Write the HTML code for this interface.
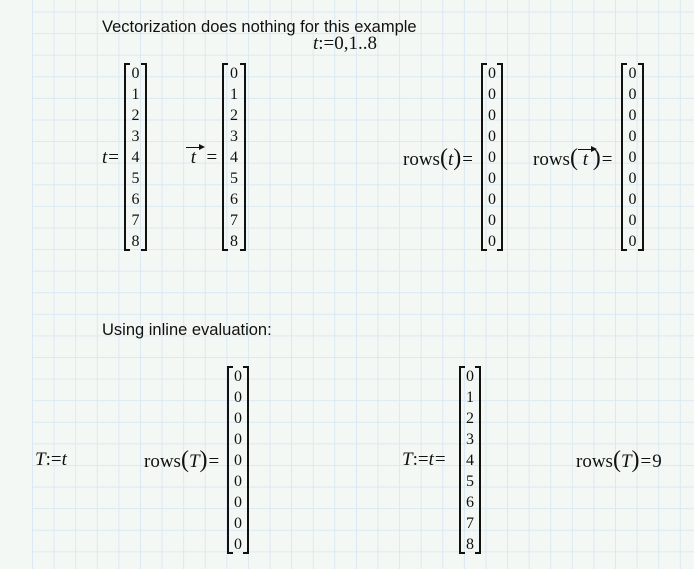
<!DOCTYPE html>
<html><head><meta charset="utf-8"><style>
html,body{margin:0;padding:0}
body{width:694px;height:569px;position:relative;overflow:hidden;background:#f4f8f4;}
.grid{position:absolute;left:31.5px;top:0;width:663px;height:569px;
background-image:linear-gradient(to right,#dbe8f3 1px,transparent 1px),linear-gradient(to bottom,#dbe8f3 1px,transparent 1px);
background-size:21.6px 21.6px;background-position:0 11.5px;}
.s{position:absolute;font-family:"Liberation Sans",sans-serif;font-size:16.5px;color:#111;white-space:nowrap}
.t{position:absolute;font-family:"Liberation Serif",serif;font-size:19px;color:#111;white-space:nowrap;line-height:22px}
.t i{font-style:italic}
.m{position:absolute;height:188px;border-left:2px solid #111;border-right:2px solid #111;display:flex;flex-direction:column;font-family:"Liberation Serif",serif;font-size:16px;color:#111}
.m::before,.m::after{content:"";position:absolute;top:0;bottom:0;width:4px;border-top:2px solid #111;border-bottom:2px solid #111}
.m::before{left:0}.m::after{right:0}
.m div{height:21px;line-height:21px;text-align:center}
.vec{position:relative;display:inline-block}
.vec::before{content:"";position:absolute;left:0px;right:-2px;top:0px;border-top:1.3px solid #111}
.vec::after{content:"";position:absolute;right:-4px;top:-3.5px;border-left:6px solid #111;border-top:3.5px solid transparent;border-bottom:3.5px solid transparent}
.p{font-size:24px;font-weight:300}
.e{margin:0 1px}
</style></head><body>
<div class="grid"></div>
<div class="s" style="left:102px;top:18px">Vectorization does nothing for this example</div>
<div class="s" style="left:102px;top:321px">Using inline evaluation:</div>

<div class="t" style="left:313px;top:33px"><i>t</i>:=0,1..8</div>

<div class="t" style="left:102px;top:147px"><i>t</i><span class="e">=</span></div>
<div class="m" style="left:124px;top:63px;width:19px"><div>0</div><div>1</div><div>2</div><div>3</div><div>4</div><div>5</div><div>6</div><div>7</div><div>8</div></div>

<div class="t" style="left:186px;top:147px"><span class="vec"><i>&nbsp;t</i>&nbsp;</span>&nbsp;<span class="e">=</span></div>
<div class="m" style="left:222px;top:63px;width:20px"><div>0</div><div>1</div><div>2</div><div>3</div><div>4</div><div>5</div><div>6</div><div>7</div><div>8</div></div>

<div class="t" style="left:403px;top:147px">rows<span class="p">(</span><i>t</i><span class="p">)</span><span class="e">=</span></div>
<div class="m" style="left:481px;top:63px;width:18px"><div>0</div><div>0</div><div>0</div><div>0</div><div>0</div><div>0</div><div>0</div><div>0</div><div>0</div></div>

<div class="t" style="left:533px;top:147px">rows<span class="p">(</span><span class="vec"><i>&nbsp;t</i>&nbsp;</span><span class="p">)</span><span class="e">=</span></div>
<div class="m" style="left:621px;top:63px;width:19px"><div>0</div><div>0</div><div>0</div><div>0</div><div>0</div><div>0</div><div>0</div><div>0</div><div>0</div></div>

<div class="t" style="left:35px;top:449px"><i>T</i>:=<i>t</i></div>
<div class="t" style="left:144px;top:449px">rows<span class="p">(</span><i>T</i><span class="p">)</span><span class="e">=</span></div>
<div class="m" style="left:227px;top:366px;width:18px"><div>0</div><div>0</div><div>0</div><div>0</div><div>0</div><div>0</div><div>0</div><div>0</div><div>0</div></div>

<div class="t" style="left:402px;top:449px"><i>T</i>:=<i>t</i><span class="e">=</span></div>
<div class="m" style="left:459px;top:366px;width:18px"><div>0</div><div>1</div><div>2</div><div>3</div><div>4</div><div>5</div><div>6</div><div>7</div><div>8</div></div>

<div class="t" style="left:576px;top:449px">rows<span class="p">(</span><i>T</i><span class="p">)</span><span class="e">=</span>9</div>
</body></html>
